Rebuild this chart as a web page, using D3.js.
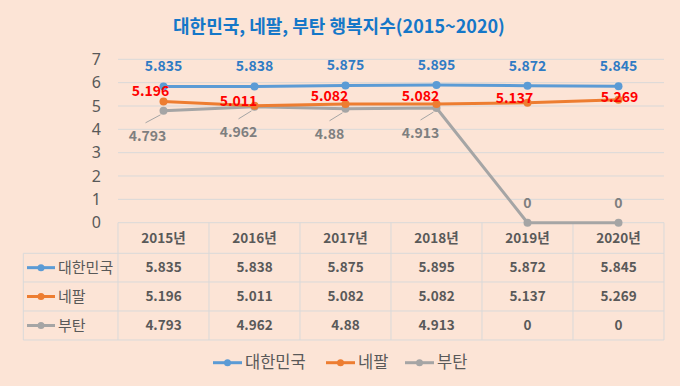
<!DOCTYPE html>
<html><head><meta charset="utf-8">
<script src="https://cdn.jsdelivr.net/npm/d3@7"></script>
<style>body{margin:0;background:#fce4d6;}svg{display:block;font-family:"Noto Sans CJK KR","Noto Sans",sans-serif;}</style>
</head><body><svg id="c" width="680" height="386"></svg>
<script>
const title = "대한민국, 네팔, 부탄 행복지수(2015~2020)";
const years = ["2015년","2016년","2017년","2018년","2019년","2020년"];
const seriesNames = ["대한민국","네팔","부탄"];
const korea = [5.835,5.838,5.875,5.895,5.872,5.845];
const nepal = [5.196,5.011,5.082,5.082,5.137,5.269];
const bhutan = [4.793,4.962,4.88,4.913,0,0];
const yTicks = [0,1,2,3,4,5,6,7];

(function(){
const colors = ["#5b9bd5","#ed7d31","#a5a5a5"];
const labelColors = ["#2f7bc4","#ff0000","#7f7f7f"];
const series = [korea,nepal,bhutan];

const svg = d3.select("#c");
svg.append("rect").attr("width",680).attr("height",386).attr("fill","#fce4d6");
const pLeft=118, pRight=664, pTop=59.3, pBottom=222.7;
const x = d3.scaleBand().domain(years).range([pLeft,pRight]);
const y = d3.scaleLinear().domain([0,7]).range([pBottom,pTop]);
const cx = d=>x(d)+x.bandwidth()/2;
const grid="#d9d9d9", txt="#595959";

svg.append("text").attr("x",339).attr("y",33).attr("text-anchor","middle")
  .attr("font-size",18).attr("font-weight","bold").attr("fill","#1577c8").text(title);

svg.append("g").selectAll("line").data(yTicks.filter(t=>t>0)).join("line")
  .attr("x1",pLeft).attr("x2",pRight).attr("y1",d=>y(d)).attr("y2",d=>y(d))
  .attr("stroke",grid).attr("stroke-width",1);
const yAxis = d3.axisLeft(y).tickValues(yTicks).tickSize(0).tickPadding(0).tickFormat(d3.format("d"));
const ga = svg.append("g").attr("transform",`translate(101,0)`).call(yAxis);
ga.select(".domain").remove();
ga.selectAll("text").attr("font-size",16).attr("fill",txt).attr("font-family",'"Noto Sans","Noto Sans CJK KR",sans-serif');

const rowTop=[pBottom, pBottom+30.6, pBottom+59.3, pBottom+88.3, pBottom+117.3];
const tableLeft=23.3;
const tg=svg.append("g");
tg.append("line").attr("x1",pLeft).attr("x2",pRight).attr("y1",rowTop[0]).attr("y2",rowTop[0]).attr("stroke",grid);
for(let i=1;i<5;i++) tg.append("line").attr("x1",tableLeft).attr("x2",pRight).attr("y1",rowTop[i]).attr("y2",rowTop[i]).attr("stroke",grid);
tg.append("line").attr("x1",tableLeft).attr("x2",tableLeft).attr("y1",rowTop[1]).attr("y2",rowTop[4]).attr("stroke",grid);
const vx=[pLeft].concat(years.map(d=>x(d)+x.bandwidth()));
vx.forEach(v=>tg.append("line").attr("x1",v).attr("x2",v).attr("y1",rowTop[0]).attr("y2",rowTop[4]).attr("stroke",grid));
tg.selectAll("text.h").data(years).join("text").attr("class","h")
  .attr("x",cx).attr("y",(rowTop[0]+rowTop[1])/2).attr("dy","0.35em").attr("text-anchor","middle")
  .attr("font-size",13.5).attr("font-weight","bold").attr("fill",txt).text(d=>d);
series.forEach((s,i)=>{
  const yc=(rowTop[i+1]+rowTop[i+2])/2;
  tg.selectAll("text.r"+i).data(s).join("text").attr("class","r"+i)
    .attr("x",(d,j)=>cx(years[j])).attr("y",yc).attr("dy","0.35em").attr("text-anchor","middle")
    .attr("font-size",13.5).attr("font-weight","bold").attr("fill",txt).text(d=>String(d));
  tg.append("line").attr("x1",27).attr("x2",55).attr("y1",yc).attr("y2",yc).attr("stroke",colors[i]).attr("stroke-width",3);
  tg.append("circle").attr("cx",41).attr("cy",yc).attr("r",3.5).attr("fill",colors[i]);
  tg.append("text").attr("x",58).attr("y",yc).attr("dy","0.35em").attr("font-size",15).attr("fill",txt).text(seriesNames[i]);
});

const line = d3.line().x((d,j)=>cx(years[j])).y(d=>y(d));
[2,1,0].forEach(i=>{
  svg.append("path").datum(series[i]).attr("d",line).attr("fill","none")
    .attr("stroke",colors[i]).attr("stroke-width",3).attr("stroke-linejoin","round");
  svg.append("g").selectAll("circle").data(series[i]).join("circle")
    .attr("cx",(d,j)=>cx(years[j])).attr("cy",d=>y(d)).attr("r",4).attr("fill",colors[i]);
});

const lab = svg.append("g").attr("font-size",14).attr("font-weight","bold").attr("text-anchor","middle");
korea.forEach((d,j)=>{
  lab.append("text").attr("x",cx(years[j])).attr("y",y(d)-20).attr("dy","0.35em").attr("fill",labelColors[0]).text(d);
});
const nepOff=[[-13,-10],[-16,-5],[-16,-8],[-16,-8],[-13,-5],[1,-3]];
nepal.forEach((d,j)=>{
  lab.append("text").attr("x",cx(years[j])+nepOff[j][0]).attr("y",y(d)+nepOff[j][1]).attr("dy","0.35em").attr("fill",labelColors[1]).text(d);
});
bhutan.forEach((d,j)=>{
  const px=cx(years[j]), py=y(d);
  if(d===0){
    lab.append("text").attr("x",px).attr("y",py-20).attr("dy","0.35em").attr("fill",labelColors[2]).text(d);
  } else {
    const lx=px-16, ly=py+25;
    lab.append("line").attr("x1",lx+(j===0?-2:0)).attr("y1",ly-13).attr("x2",px-3).attr("y2",py+4).attr("stroke","#a5a5a5").attr("stroke-width",1);
    lab.append("text").attr("x",lx).attr("y",ly).attr("dy","0.35em").attr("fill",labelColors[2]).text(d);
  }
});

const lg=svg.append("g");
const lgx=[213,326,405];
seriesNames.forEach((n,i)=>{
  const yc=362.7;
  lg.append("line").attr("x1",lgx[i]).attr("x2",lgx[i]+29).attr("y1",yc).attr("y2",yc).attr("stroke",colors[i]).attr("stroke-width",3);
  lg.append("circle").attr("cx",lgx[i]+14.5).attr("cy",yc).attr("r",3.5).attr("fill",colors[i]);
  lg.append("text").attr("x",lgx[i]+32).attr("y",yc).attr("dy","0.35em").attr("font-size",16.5).attr("fill",txt).text(n);
});
})();
</script></body></html>
